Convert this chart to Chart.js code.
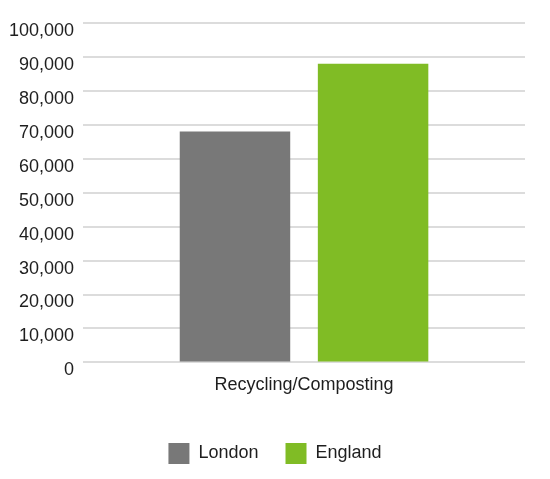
<!DOCTYPE html>
<html>
<head>
<meta charset="utf-8">
<script src="https://cdn.jsdelivr.net/npm/chart.js@4"></script>
<style>
  html, body { margin: 0; padding: 0; background: #fff; }
  #wrap { width: 550px; height: 479px; }
</style>
</head>
<body>
<div id="wrap"><canvas id="chart"></canvas></div>
<script>
const categories = ['Recycling/Composting'];
const seriesNames = ['London', 'England'];
const londonValues = [68000];
const englandValues = [88000];
const seriesColors = ['#787878', '#80bc25'];

Chart.defaults.font.family = '"Liberation Sans", Arial, sans-serif';
Chart.defaults.color = '#1e1e1e';

var ctx = document.getElementById('chart').getContext('2d');
var chart = new Chart(ctx, {
  type: 'bar',
  data: {
    labels: categories,
    datasets: [{
      label: seriesNames[0],
      data: londonValues,
      backgroundColor: seriesColors[0],
      barPercentage: 0.8,
      categoryPercentage: 0.625
    }, {
      label: seriesNames[1],
      data: englandValues,
      backgroundColor: seriesColors[1],
      barPercentage: 0.8,
      categoryPercentage: 0.625
    }]
  },
  options: {
    responsive: true,
    maintainAspectRatio: false,
    animation: false,
    layout: {
      padding: { left: 0, right: 0, top: 23, bottom: 5 }
    },
    plugins: {
      title: { display: false },
      tooltip: { enabled: false },
      legend: {
        position: 'bottom',
        labels: {
          boxWidth: 21,
          boxHeight: 21,
          padding: 27,
          font: { size: 18 }
        }
      }
    },
    scales: {
      x: {
        grid: { display: false },
        border: { display: false },
        ticks: { font: { size: 18 }, padding: 4 },
        afterFit: function(scale) { scale.height += 16; }
      },
      y: {
        min: 0,
        max: 100000,
        grid: { color: '#dcdcdc', lineWidth: 2, drawTicks: false },
        border: { display: false },
        ticks: {
          stepSize: 10000,
          padding: 9,
          labelOffset: 8,
          font: { size: 18 },
          callback: function(v) { return v.toLocaleString('en-US'); }
        }
      },
      // empty right-hand margin so the legend stays centred on the page
      yRight: {
        position: 'right',
        grid: { display: false },
        border: { display: false },
        ticks: { display: false },
        afterFit: function(scale) { scale.width = 25; }
      }
    }
  }
});
</script>
</body>
</html>
